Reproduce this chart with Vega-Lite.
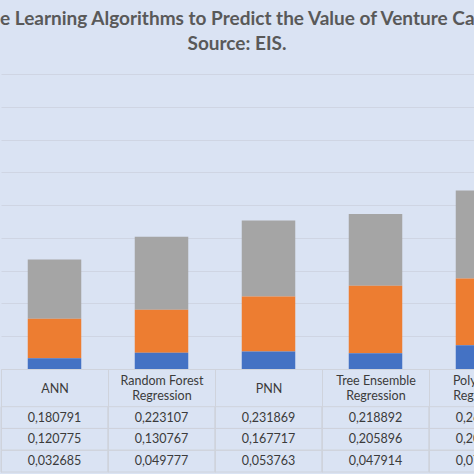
{
  "$schema": "https://vega.github.io/schema/vega-lite/v6.json",
  "autosize": {"type": "none"},
  "width": 474,
  "height": 295,
  "padding": {"top": 74, "bottom": 105, "left": 0, "right": 0},
  "background": "#dae3f3",
  "title": {
    "text": [
      "Results of Machine Learning Algorithms to Predict the Value of Venture Capital Investments.",
      "Source: EIS."
    ],
    "anchor": "middle",
    "frame": "group",
    "baseline": "bottom",
    "offset": 1,
    "font": "Lato",
    "fontSize": 19,
    "fontWeight": "bold",
    "color": "#595959",
    "lineHeight": 25
  },
  "data": {
    "values": [
      {"model": "ANN", "metric": "RMSE", "value": 0.180791},
      {"model": "ANN", "metric": "MAE", "value": 0.120775},
      {"model": "ANN", "metric": "MSE", "value": 0.032685},
      {"model": "Random Forest Regression", "metric": "RMSE", "value": 0.223107},
      {"model": "Random Forest Regression", "metric": "MAE", "value": 0.130767},
      {"model": "Random Forest Regression", "metric": "MSE", "value": 0.049777},
      {"model": "PNN", "metric": "RMSE", "value": 0.231869},
      {"model": "PNN", "metric": "MAE", "value": 0.167717},
      {"model": "PNN", "metric": "MSE", "value": 0.053763},
      {"model": "Tree Ensemble Regression", "metric": "RMSE", "value": 0.218892},
      {"model": "Tree Ensemble Regression", "metric": "MAE", "value": 0.205896},
      {"model": "Tree Ensemble Regression", "metric": "MSE", "value": 0.047914},
      {"model": "Polynomial Regression", "metric": "RMSE", "value": 0.2685},
      {"model": "Polynomial Regression", "metric": "MAE", "value": 0.204},
      {"model": "Polynomial Regression", "metric": "MSE", "value": 0.0721}
    ]
  },
  "encoding": {
    "x": {
      "field": "model",
      "type": "nominal",
      "sort": ["ANN", "Random Forest Regression", "PNN", "Tree Ensemble Regression", "Polynomial Regression"],
      "scale": {"range": [1, 536], "paddingInner": 0, "paddingOuter": 0},
      "axis": {
        "title": null,
        "orient": "bottom",
        "domainColor": "#cfd3dc",
        "ticks": true,
        "tickBand": "extent",
        "tickSize": 103,
        "tickColor": "#cfd3dc",
        "labelPadding": -84,
        "labelAngle": 0,
        "labelBaseline": {
          "condition": {"test": "indexof(datum.label, ' Regression') > 0", "value": "line-bottom"},
          "value": "middle"
        },
        "labelFont": "Lato",
        "labelFontSize": 12.5,
        "labelLineHeight": 15.3,
        "labelColor": "#3b3b3b",
        "labelOverlap": false,
        "labelFlush": false,
        "labelExpr": "indexof(datum.label, ' Regression') > 0 ? [replace(datum.label, ' Regression', ''), 'Regression'] : datum.label"
      }
    }
  },
  "layer": [
    {
      "mark": {"type": "bar", "width": {"band": 0.5}},
      "encoding": {
        "y": {
          "field": "value",
          "type": "quantitative",
          "stack": "zero",
          "scale": {"domain": [0, 0.9], "nice": false},
          "axis": {
            "title": null,
            "labels": false,
            "ticks": false,
            "domain": false,
            "grid": true,
            "gridColor": "#cfd5e3",
            "values": [0, 0.1, 0.2, 0.3, 0.4, 0.5, 0.6, 0.7, 0.8, 0.9]
          }
        },
        "color": {
          "field": "metric",
          "type": "nominal",
          "scale": {"domain": ["MSE", "MAE", "RMSE"], "range": ["#4472c4", "#ed7d31", "#a5a5a5"]},
          "legend": null
        },
        "order": {"field": "value", "type": "quantitative", "sort": "ascending"}
      }
    },
    {
      "mark": {"type": "rect", "fillOpacity": 0, "stroke": "#cfd3dc", "strokeWidth": 1},
      "encoding": {
        "y": {
          "field": "metric",
          "type": "nominal",
          "scale": {"domain": ["RMSE", "MAE", "MSE"], "range": [332.7, 398], "paddingInner": 0, "paddingOuter": 0},
          "axis": null
        }
      }
    },
    {
      "mark": {"type": "text", "font": "Lato", "fontSize": 12.5, "color": "#3b3b3b", "baseline": "middle"},
      "encoding": {
        "y": {
          "field": "metric",
          "type": "nominal",
          "scale": {"domain": ["RMSE", "MAE", "MSE"], "range": [332.7, 398], "paddingInner": 0, "paddingOuter": 0},
          "axis": null
        },
        "text": {"field": "value", "type": "quantitative", "format": ".6f"}
      }
    }
  ],
  "resolve": {"scale": {"y": "independent"}, "axis": {"y": "independent"}},
  "config": {
    "view": {"stroke": null},
    "locale": {"number": {"decimal": ",", "thousands": ".", "grouping": [3], "currency": ["", " €"]}}
  }
}
